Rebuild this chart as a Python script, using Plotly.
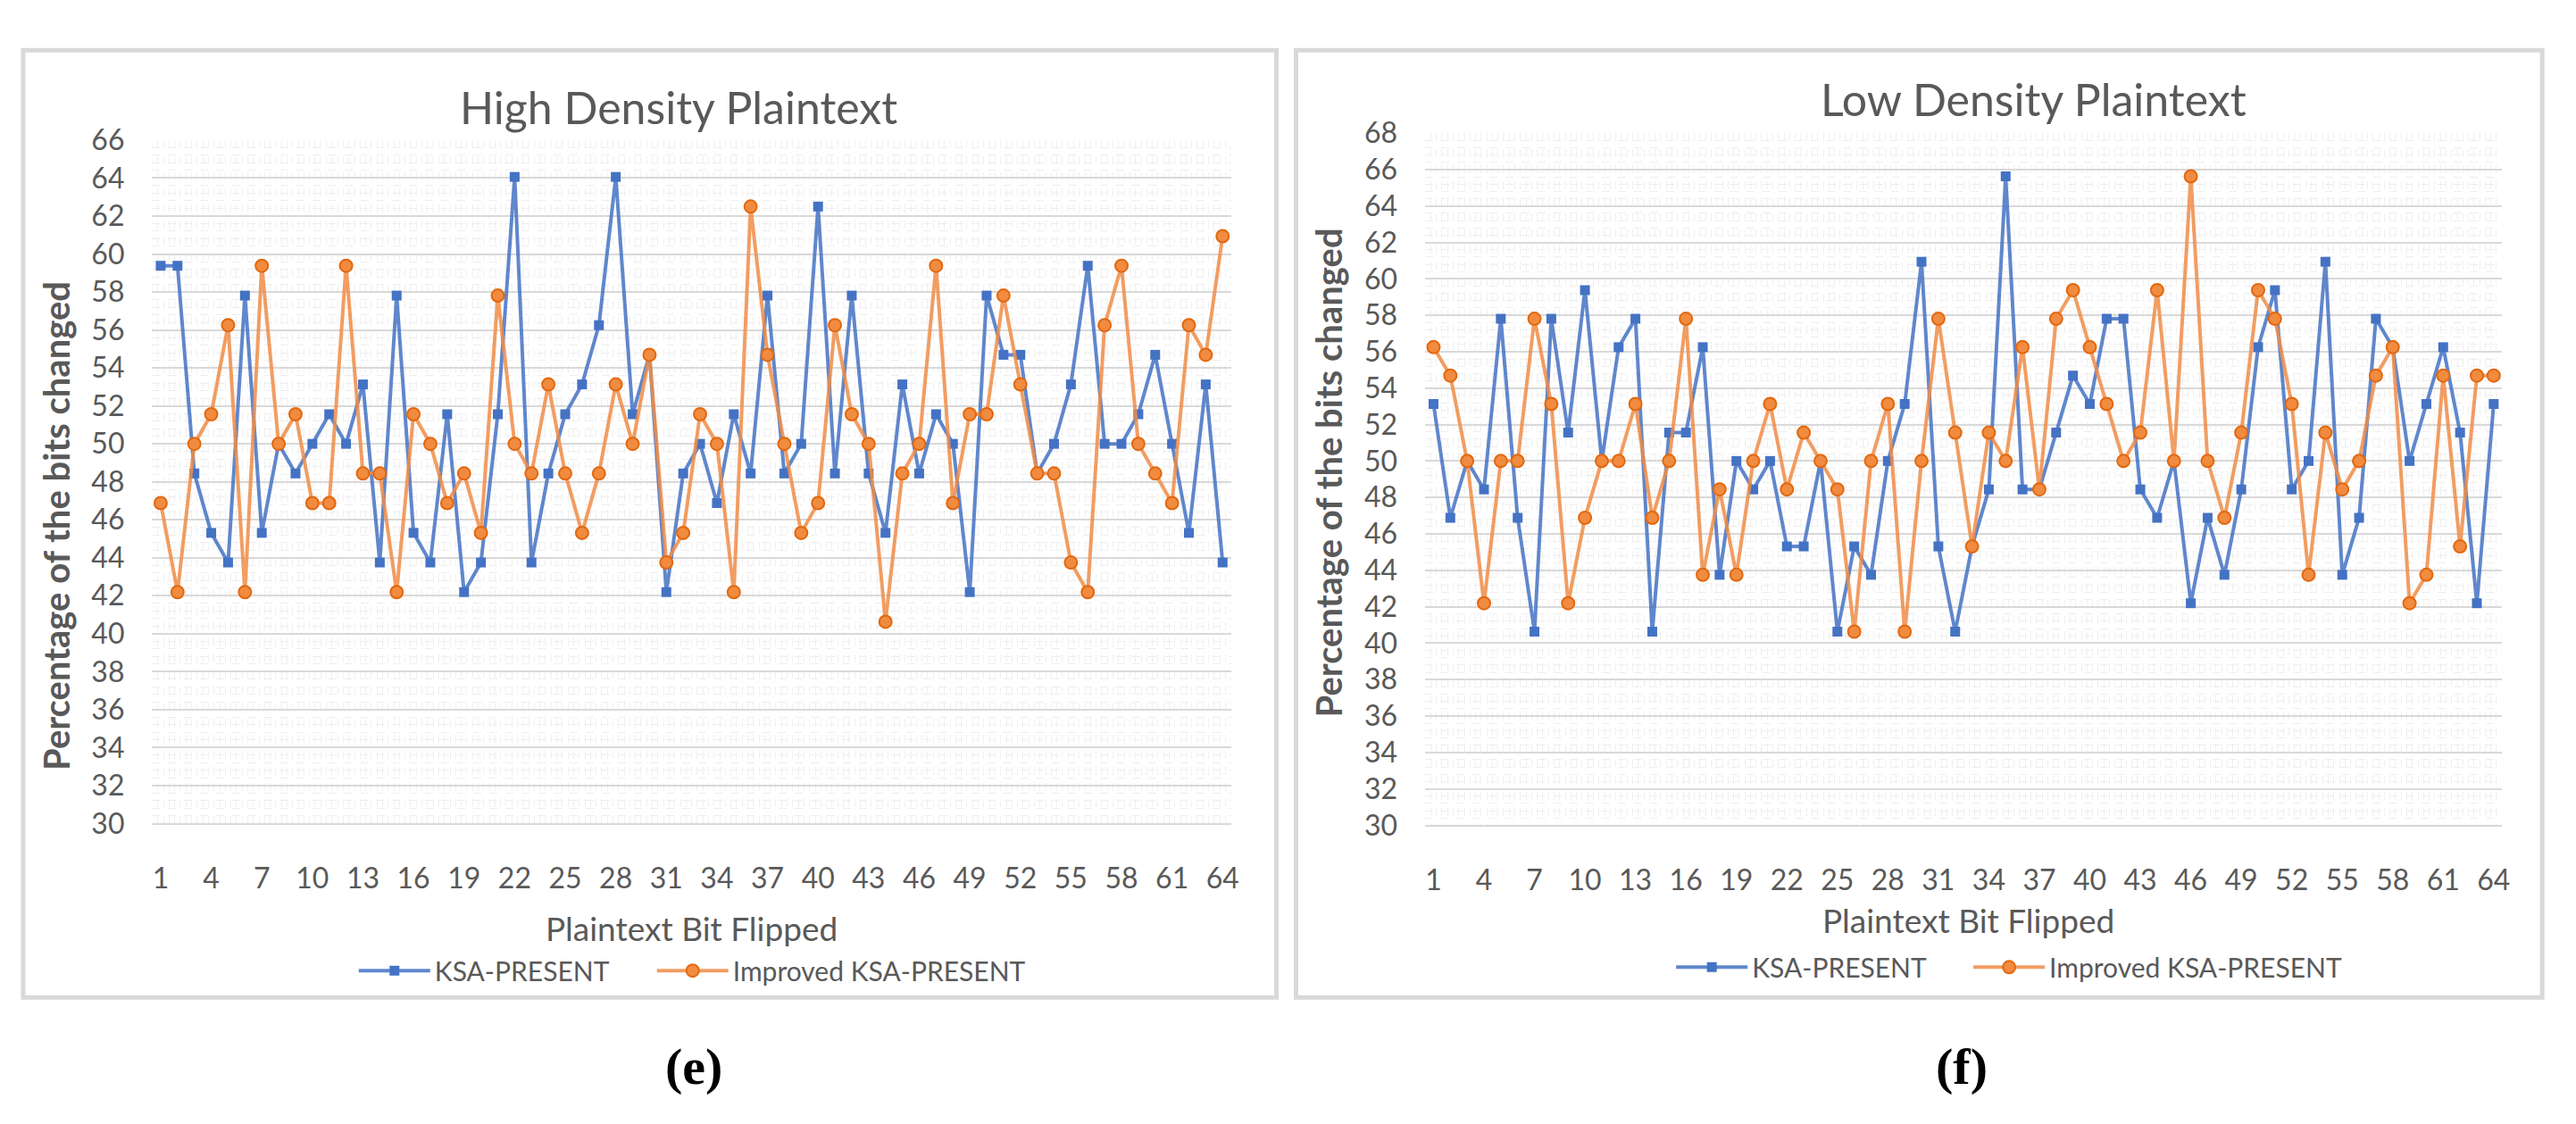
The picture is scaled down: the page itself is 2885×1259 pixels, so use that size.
import plotly.graph_objects as go

# Data
bits = list(range(1, 65))
tick_bits = [1, 4, 7, 10, 13, 16, 19, 22, 25, 28, 31, 34, 37, 40, 43, 46, 49, 52, 55, 58, 61, 64]

high_ksa = [59.38, 59.38, 48.44, 45.31, 43.75, 57.81, 45.31, 50.0, 48.44, 50.0,
            51.56, 50.0, 53.13, 43.75, 57.81, 45.31, 43.75, 51.56, 42.19, 43.75,
            51.56, 64.06, 43.75, 48.44, 51.56, 53.13, 56.25, 64.06, 51.56, 54.69,
            42.19, 48.44, 50.0, 46.88, 51.56, 48.44, 57.81, 48.44, 50.0, 62.5,
            48.44, 57.81, 48.44, 45.31, 53.13, 48.44, 51.56, 50.0, 42.19, 57.81,
            54.69, 54.69, 48.44, 50.0, 53.13, 59.38, 50.0, 50.0, 51.56, 54.69,
            50.0, 45.31, 53.13, 43.75]
high_improved = [46.88, 42.19, 50.0, 51.56, 56.25, 42.19, 59.38, 50.0, 51.56, 46.88,
                 46.88, 59.38, 48.44, 48.44, 42.19, 51.56, 50.0, 46.88, 48.44, 45.31,
                 57.81, 50.0, 48.44, 53.13, 48.44, 45.31, 48.44, 53.13, 50.0, 54.69,
                 43.75, 45.31, 51.56, 50.0, 42.19, 62.5, 54.69, 50.0, 45.31, 46.88,
                 56.25, 51.56, 50.0, 40.63, 48.44, 50.0, 59.38, 46.88, 51.56, 51.56,
                 57.81, 53.13, 48.44, 48.44, 43.75, 42.19, 56.25, 59.38, 50.0, 48.44,
                 46.88, 56.25, 54.69, 60.94]

low_ksa = [53.13, 46.88, 50.0, 48.44, 57.81, 46.88, 40.63, 57.81, 51.56, 59.38,
           50.0, 56.25, 57.81, 40.63, 51.56, 51.56, 56.25, 43.75, 50.0, 48.44,
           50.0, 45.31, 45.31, 50.0, 40.63, 45.31, 43.75, 50.0, 53.13, 60.94,
           45.31, 40.63, 45.31, 48.44, 65.63, 48.44, 48.44, 51.56, 54.69, 53.13,
           57.81, 57.81, 48.44, 46.88, 50.0, 42.19, 46.88, 43.75, 48.44, 56.25,
           59.38, 48.44, 50.0, 60.94, 43.75, 46.88, 57.81, 56.25, 50.0, 53.13,
           56.25, 51.56, 42.19, 53.13]
low_improved = [56.25, 54.69, 50.0, 42.19, 50.0, 50.0, 57.81, 53.13, 42.19, 46.88,
                50.0, 50.0, 53.13, 46.88, 50.0, 57.81, 43.75, 48.44, 43.75, 50.0,
                53.13, 48.44, 51.56, 50.0, 48.44, 40.63, 50.0, 53.13, 40.63, 50.0,
                57.81, 51.56, 45.31, 51.56, 50.0, 56.25, 48.44, 57.81, 59.38, 56.25,
                53.13, 50.0, 51.56, 59.38, 50.0, 65.63, 50.0, 46.88, 51.56, 59.38,
                57.81, 53.13, 43.75, 51.56, 48.44, 50.0, 54.69, 56.25, 42.19, 43.75,
                54.69, 45.31, 54.69, 54.69]

W, H = 2885, 1259
FONT = "Lato, 'Open Sans', sans-serif"
GREY = "#595959"
BLUE = "#4472C4"


def px(x):
    return x / W


def py(y):
    return 1 - y / H


fig = go.Figure()

# one legend per entry so each key sits where the reference has it
panels = [
    (high_ksa, high_improved, "x", "y", "legend", "legend2"),
    (low_ksa, low_improved, "x2", "y2", "legend3", "legend4"),
]
for ksa, imp, xa, ya, lg_a, lg_b in panels:
    fig.add_trace(go.Scatter(
        x=bits, y=ksa, name="KSA-PRESENT", mode="lines+markers",
        line=dict(color="rgba(68,114,196,0.85)", width=4),
        marker=dict(symbol="square", size=11, color=BLUE),
        xaxis=xa, yaxis=ya, legend=lg_a, cliponaxis=False,
    ))
    fig.add_trace(go.Scatter(
        x=bits, y=imp, name="Improved KSA-PRESENT", mode="lines+markers",
        line=dict(color="rgba(240,140,70,0.85)", width=4),
        marker=dict(symbol="circle", size=14, color="#F08B40",
                    line=dict(color="#E2680F", width=2)),
        xaxis=xa, yaxis=ya, legend=lg_b, cliponaxis=False,
    ))

xcommon = dict(
    range=[0.5, 64.5], tickmode="array", tickvals=tick_bits,
    ticktext=[str(t) for t in tick_bits], showgrid=False, zeroline=False,
    ticks="", ticklabelstandoff=32, tickfont=dict(family=FONT, size=32, color=GREY),
    showline=True, linecolor="#D9D9D9", linewidth=2,
    minor=dict(dtick=1 / 3, tick0=0.5, showgrid=True, gridcolor="#F0F0F0",
               griddash="dash", gridwidth=1),
)
ycommon = dict(
    dtick=2, showgrid=True, gridcolor="#D9D9D9", gridwidth=2, zeroline=False,
    ticks="", ticklabelstandoff=30, tickfont=dict(family=FONT, size=32, color=GREY),
    minor=dict(dtick=0.4, showgrid=True, gridcolor="#EEEEEE", griddash="dash",
               gridwidth=1),
)
legend_style = dict(orientation="h", xanchor="left", yanchor="middle",
                    itemwidth=80, bgcolor="rgba(0,0,0,0)",
                    font=dict(family=FONT, size=30, color=GREY))

fig.update_layout(
    width=W, height=H, autosize=False,
    margin=dict(l=0, r=0, t=0, b=0),
    paper_bgcolor="white", plot_bgcolor="white",
    xaxis=dict(domain=[px(163), px(1375)], anchor="y", **xcommon),
    yaxis=dict(domain=[py(922), py(132)], range=[30, 66], anchor="x", **ycommon),
    xaxis2=dict(domain=[px(1593), px(2803)], anchor="y2", **xcommon),
    yaxis2=dict(domain=[py(924), py(124)], range=[30, 68], anchor="x2", **ycommon),
    legend=dict(x=px(390), y=py(1092), **legend_style),
    legend2=dict(x=px(725), y=py(1092), **legend_style),
    legend3=dict(x=px(1870), y=py(1088), **legend_style),
    legend4=dict(x=px(2204), y=py(1088), **legend_style),
    showlegend=True,
)

# Chart frames
for x0, x1 in [(18, 1426), (1448, 2848)]:
    fig.add_shape(type="rect", xref="paper", yref="paper",
                  x0=px(x0), x1=px(x1), y0=py(1123), y1=py(28),
                  line=dict(color="#D9D9D9", width=5), layer="below")

annots = [
    ("High Density Plaintext", 754, 94, 50, 0, False),
    ("Low Density Plaintext", 2277, 85, 50, 0, False),
    ("Percentage of the bits changed", 55, 578, 40, -90, True),
    ("Percentage of the bits changed", 1485, 516, 40, -90, True),
    ("Plaintext Bit Flipped", 769, 1043, 37, 0, False),
    ("Plaintext Bit Flipped", 2203, 1033, 37, 0, False),
]
for text, x, y, size, ang, bold in annots:
    fig.add_annotation(
        text=f"<b>{text}</b>" if bold else text, x=px(x), y=py(y),
        xref="paper", yref="paper", xanchor="center", yanchor="middle",
        showarrow=False, textangle=ang,
        font=dict(family=FONT, size=size, color=GREY),
    )

for text, x in [("(e)", 771), ("(f)", 2196)]:
    fig.add_annotation(
        text=f"<b>{text}</b>", x=px(x), y=py(1203), xref="paper", yref="paper",
        xanchor="center", yanchor="middle", showarrow=False,
        font=dict(family="'Liberation Serif', serif", size=58, color="black"),
    )

fig.write_html("out.html")
